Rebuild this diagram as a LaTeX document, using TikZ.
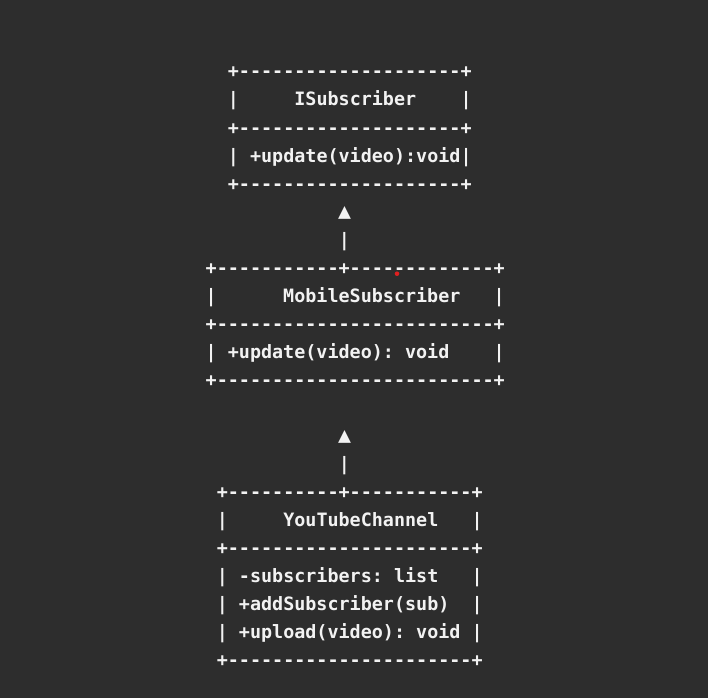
\documentclass[tikz,border=0pt]{standalone}
\usepackage{fontspec}
\setmonofont{DejaVu Sans Mono}
\definecolor{bgdark}{HTML}{2D2D2D}
\definecolor{asciiwhite}{HTML}{F2F2F2}
\definecolor{dotred}{HTML}{E02020}
\begin{document}
\begin{tikzpicture}[x=1pt, y=1pt,
    asciirow/.style={anchor=base west, inner sep=0pt, text=asciiwhite,
      font=\ttfamily\bfseries\fontsize{18.4}{20}\selectfont},
    asciitip/.style={anchor=center, inner sep=0pt, text=asciiwhite,
      font=\ttfamily\bfseries\fontsize{21.5}{22}\selectfont}]
            \fill[bgdark] (0, 0) rectangle (708, -698);
            \useasboundingbox (0, 0) rectangle (708, -698);

            % ISubscriber
            \node[asciirow] (isubTop) at (227.7, -78) {+--------------------+};
            \node[asciirow] (isubName) at (227.7, -106) {|\ \ \ \ \ ISubscriber\ \ \ \ |};
            \node[asciirow] (isubMid) at (227.7, -134) {+--------------------+};
            \node[asciirow] (isubUpdate) at (227.7, -162) {|\ +update(video):void|};
            \node[asciirow] (isubBottom) at (227.7, -190) {+--------------------+};

            \node[asciitip] (mobileArrow) at (344.5, -212.5) {▲};
            \node[asciirow] (mobileStem) at (338.7, -246) {|};

            % MobileSubscriber
            \node[asciirow] (mobileTop) at (205.5, -274) {+-----------+-------------+};
            \node[asciirow] (mobileName) at (205.5, -302) {|\ \ \ \ \ \ MobileSubscriber\ \ \ |};
            \node[asciirow] (mobileMid) at (205.5, -330) {+-------------------------+};
            \node[asciirow] (mobileUpdate) at (205.5, -358) {|\ +update(video):\ void\ \ \ \ |};
            \node[asciirow] (mobileBottom) at (205.5, -386) {+-------------------------+};
            \fill[dotred] (397, -273.7) circle (2.3);

            \node[asciitip] (channelArrow) at (344.5, -436.5) {▲};
            \node[asciirow] (channelStem) at (338.7, -470) {|};

            % YouTubeChannel
            \node[asciirow] (channelTop) at (216.6, -498) {+----------+-----------+};
            \node[asciirow] (channelName) at (216.6, -526) {|\ \ \ \ \ YouTubeChannel\ \ \ |};
            \node[asciirow] (channelMid) at (216.6, -554) {+----------------------+};
            \node[asciirow] (channelList) at (216.6, -582) {|\ -subscribers:\ list\ \ \ |};
            \node[asciirow] (channelAdd) at (216.6, -610) {|\ +addSubscriber(sub)\ \ |};
            \node[asciirow] (channelUpload) at (216.6, -638) {|\ +upload(video):\ void\ |};
            \node[asciirow] (channelBottom) at (216.6, -666) {+----------------------+};
        \end{tikzpicture}
\end{document}
